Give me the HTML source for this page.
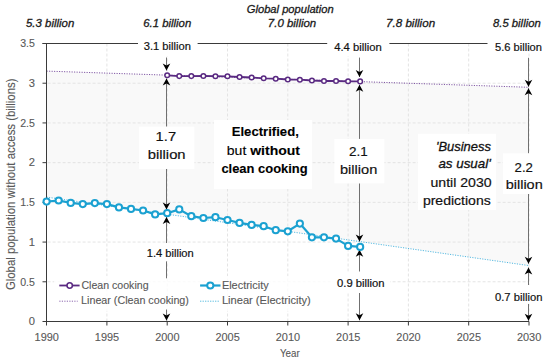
<!DOCTYPE html>
<html><head><meta charset="utf-8"><style>
html,body{margin:0;padding:0;background:#fff;width:550px;height:360px;overflow:hidden;position:relative}
svg text{font-family:"Liberation Sans", sans-serif}
</style></head><body>
<svg width="550" height="360" viewBox="0 0 550 360" style="position:absolute;left:0;top:0">
<polygon points="46.6,71.1 529.0,87.3 529.0,265.6 46.6,197.1" fill="#f9f9f9"/>
<line x1="47.6" y1="281.7857142857143" x2="529.0" y2="281.7857142857143" stroke="#e4e4e4" stroke-width="1" stroke-dasharray="3,2"/>
<line x1="47.6" y1="242.07142857142856" x2="529.0" y2="242.07142857142856" stroke="#e4e4e4" stroke-width="1" stroke-dasharray="3,2"/>
<line x1="47.6" y1="202.35714285714286" x2="529.0" y2="202.35714285714286" stroke="#e4e4e4" stroke-width="1" stroke-dasharray="3,2"/>
<line x1="47.6" y1="162.64285714285714" x2="529.0" y2="162.64285714285714" stroke="#e4e4e4" stroke-width="1" stroke-dasharray="3,2"/>
<line x1="47.6" y1="122.92857142857142" x2="529.0" y2="122.92857142857142" stroke="#e4e4e4" stroke-width="1" stroke-dasharray="3,2"/>
<line x1="47.6" y1="83.21428571428572" x2="529.0" y2="83.21428571428572" stroke="#e4e4e4" stroke-width="1" stroke-dasharray="3,2"/>
<line x1="106.9" y1="43.5" x2="106.9" y2="321.5" stroke="#e4e4e4" stroke-width="1" stroke-dasharray="3,2"/>
<line x1="167.20000000000002" y1="43.5" x2="167.20000000000002" y2="321.5" stroke="#e4e4e4" stroke-width="1" stroke-dasharray="3,2"/>
<line x1="227.5" y1="43.5" x2="227.5" y2="321.5" stroke="#e4e4e4" stroke-width="1" stroke-dasharray="3,2"/>
<line x1="287.8" y1="43.5" x2="287.8" y2="321.5" stroke="#e4e4e4" stroke-width="1" stroke-dasharray="3,2"/>
<line x1="348.1" y1="43.5" x2="348.1" y2="321.5" stroke="#e4e4e4" stroke-width="1" stroke-dasharray="3,2"/>
<line x1="408.40000000000003" y1="43.5" x2="408.40000000000003" y2="321.5" stroke="#e4e4e4" stroke-width="1" stroke-dasharray="3,2"/>
<line x1="468.70000000000005" y1="43.5" x2="468.70000000000005" y2="321.5" stroke="#e4e4e4" stroke-width="1" stroke-dasharray="3,2"/>
<line x1="529.0" y1="43.5" x2="529.0" y2="321.5" stroke="#e4e4e4" stroke-width="1" stroke-dasharray="3,2"/>
<line x1="46.6" y1="71.1" x2="529.0" y2="87.3" stroke="#7a4fa0" stroke-width="1" stroke-dasharray="1.1,1.4"/>
<line x1="46.6" y1="197.1" x2="529.0" y2="265.6" stroke="#4cb6e0" stroke-width="1" stroke-dasharray="1.1,1.4"/>
<rect x="54" y="276" width="280" height="35" fill="#fff" fill-opacity="0.8"/>
<line x1="42.5" y1="43.5" x2="487.5" y2="43.5" stroke="#3a3a3a" stroke-width="1"/>
<line x1="46.5" y1="43.5" x2="46.5" y2="325.5" stroke="#3a3a3a" stroke-width="1"/>
<line x1="46.5" y1="321.5" x2="529" y2="321.5" stroke="#3a3a3a" stroke-width="1"/>
<line x1="42.5" y1="321.5" x2="46.5" y2="321.5" stroke="#3a3a3a" stroke-width="1"/>
<line x1="42.5" y1="281.7857142857143" x2="46.5" y2="281.7857142857143" stroke="#3a3a3a" stroke-width="1"/>
<line x1="42.5" y1="242.07142857142856" x2="46.5" y2="242.07142857142856" stroke="#3a3a3a" stroke-width="1"/>
<line x1="42.5" y1="202.35714285714286" x2="46.5" y2="202.35714285714286" stroke="#3a3a3a" stroke-width="1"/>
<line x1="42.5" y1="162.64285714285714" x2="46.5" y2="162.64285714285714" stroke="#3a3a3a" stroke-width="1"/>
<line x1="42.5" y1="122.92857142857142" x2="46.5" y2="122.92857142857142" stroke="#3a3a3a" stroke-width="1"/>
<line x1="42.5" y1="83.21428571428572" x2="46.5" y2="83.21428571428572" stroke="#3a3a3a" stroke-width="1"/>
<line x1="42.5" y1="43.5" x2="46.5" y2="43.5" stroke="#3a3a3a" stroke-width="1"/>
<line x1="106.9" y1="321.5" x2="106.9" y2="325.5" stroke="#3a3a3a" stroke-width="1"/>
<line x1="167.20000000000002" y1="321.5" x2="167.20000000000002" y2="325.5" stroke="#3a3a3a" stroke-width="1"/>
<line x1="227.5" y1="321.5" x2="227.5" y2="325.5" stroke="#3a3a3a" stroke-width="1"/>
<line x1="287.8" y1="321.5" x2="287.8" y2="325.5" stroke="#3a3a3a" stroke-width="1"/>
<line x1="348.1" y1="321.5" x2="348.1" y2="325.5" stroke="#3a3a3a" stroke-width="1"/>
<line x1="408.40000000000003" y1="321.5" x2="408.40000000000003" y2="325.5" stroke="#3a3a3a" stroke-width="1"/>
<line x1="468.70000000000005" y1="321.5" x2="468.70000000000005" y2="325.5" stroke="#3a3a3a" stroke-width="1"/>
<line x1="529.0" y1="321.5" x2="529.0" y2="325.5" stroke="#3a3a3a" stroke-width="1"/>
<rect x="138" y="38" width="59.599999999999994" height="18" fill="#fff" fill-opacity="1"/>
<rect x="327.2" y="38" width="62.19999999999999" height="18" fill="#fff" fill-opacity="1"/>
<line x1="166.5" y1="57.5" x2="166.5" y2="70.5" stroke="#707070" stroke-width="1"/>
<line x1="166.5" y1="78.5" x2="166.5" y2="126.7" stroke="#707070" stroke-width="1"/>
<line x1="166.5" y1="168.9" x2="166.5" y2="209.6" stroke="#707070" stroke-width="1"/>
<line x1="166.5" y1="216.9" x2="166.5" y2="243" stroke="#707070" stroke-width="1"/>
<line x1="166.5" y1="261.2" x2="166.5" y2="278.3" stroke="#707070" stroke-width="1"/>
<line x1="166.5" y1="309.5" x2="166.5" y2="320.5" stroke="#707070" stroke-width="1"/>
<line x1="359.5" y1="57.6" x2="359.5" y2="77.0" stroke="#707070" stroke-width="1"/>
<line x1="359.5" y1="84.7" x2="359.5" y2="139" stroke="#707070" stroke-width="1"/>
<line x1="359.5" y1="183.3" x2="359.5" y2="241.5" stroke="#707070" stroke-width="1"/>
<line x1="359.5" y1="249.8" x2="359.5" y2="271.7" stroke="#707070" stroke-width="1"/>
<line x1="359.5" y1="293" x2="359.5" y2="320.3" stroke="#707070" stroke-width="1"/>
<line x1="528.5" y1="57.8" x2="528.5" y2="86.7" stroke="#707070" stroke-width="1"/>
<line x1="528.5" y1="88.2" x2="528.5" y2="153.4" stroke="#707070" stroke-width="1"/>
<line x1="528.5" y1="193.9" x2="528.5" y2="263.75" stroke="#707070" stroke-width="1"/>
<line x1="528.5" y1="267.5" x2="528.5" y2="285" stroke="#707070" stroke-width="1"/>
<line x1="528.5" y1="303.75" x2="528.5" y2="320.75" stroke="#707070" stroke-width="1"/>
<path d="M166.5,70.5 L162.7,63.5 L166.5,65.5 L170.3,63.5 Z" fill="#000"/>
<path d="M166.5,78.5 L162.7,85.5 L166.5,83.5 L170.3,85.5 Z" fill="#000"/>
<path d="M166.5,209.6 L162.7,202.6 L166.5,204.6 L170.3,202.6 Z" fill="#000"/>
<path d="M166.5,216.9 L162.7,223.9 L166.5,221.9 L170.3,223.9 Z" fill="#000"/>
<path d="M166.5,320.5 L162.7,313.5 L166.5,315.5 L170.3,313.5 Z" fill="#000"/>
<path d="M359.5,77.0 L355.7,70.0 L359.5,72.0 L363.3,70.0 Z" fill="#000"/>
<path d="M359.5,84.7 L355.7,91.7 L359.5,89.7 L363.3,91.7 Z" fill="#000"/>
<path d="M359.5,241.5 L355.7,234.5 L359.5,236.5 L363.3,234.5 Z" fill="#000"/>
<path d="M359.5,249.8 L355.7,256.8 L359.5,254.8 L363.3,256.8 Z" fill="#000"/>
<path d="M359.5,320.3 L355.7,313.3 L359.5,315.3 L363.3,313.3 Z" fill="#000"/>
<path d="M528.5,86.7 L524.7,79.7 L528.5,81.7 L532.3,79.7 Z" fill="#000"/>
<path d="M528.5,88.2 L524.7,95.2 L528.5,93.2 L532.3,95.2 Z" fill="#000"/>
<path d="M528.5,263.75 L524.7,256.75 L528.5,258.75 L532.3,256.75 Z" fill="#000"/>
<path d="M528.5,267.5 L524.7,274.5 L528.5,272.5 L532.3,274.5 Z" fill="#000"/>
<path d="M528.5,320.75 L524.7,313.75 L528.5,315.75 L532.3,313.75 Z" fill="#000"/>
<polyline points="167.20000000000002,75.3 179.26,76.1 191.32,76.1 203.38,76.0 215.44,76.2 227.5,76.3 239.56,77.0 251.62,77.5 263.68,78.3 275.74,78.7 287.8,79.5 299.86,79.7 311.92,80.5 323.98,81.0 336.04,81.0 348.1,81.3 360.16,81.4" fill="none" stroke="#5a2a82" stroke-width="1.8" stroke-linejoin="round"/>
<circle cx="167.20000000000002" cy="75.3" r="2.3" fill="#fff" stroke="#5a2a82" stroke-width="1.5"/>
<circle cx="179.26" cy="76.1" r="2.3" fill="#fff" stroke="#5a2a82" stroke-width="1.5"/>
<circle cx="191.32" cy="76.1" r="2.3" fill="#fff" stroke="#5a2a82" stroke-width="1.5"/>
<circle cx="203.38" cy="76.0" r="2.3" fill="#fff" stroke="#5a2a82" stroke-width="1.5"/>
<circle cx="215.44" cy="76.2" r="2.3" fill="#fff" stroke="#5a2a82" stroke-width="1.5"/>
<circle cx="227.5" cy="76.3" r="2.3" fill="#fff" stroke="#5a2a82" stroke-width="1.5"/>
<circle cx="239.56" cy="77.0" r="2.3" fill="#fff" stroke="#5a2a82" stroke-width="1.5"/>
<circle cx="251.62" cy="77.5" r="2.3" fill="#fff" stroke="#5a2a82" stroke-width="1.5"/>
<circle cx="263.68" cy="78.3" r="2.3" fill="#fff" stroke="#5a2a82" stroke-width="1.5"/>
<circle cx="275.74" cy="78.7" r="2.3" fill="#fff" stroke="#5a2a82" stroke-width="1.5"/>
<circle cx="287.8" cy="79.5" r="2.3" fill="#fff" stroke="#5a2a82" stroke-width="1.5"/>
<circle cx="299.86" cy="79.7" r="2.3" fill="#fff" stroke="#5a2a82" stroke-width="1.5"/>
<circle cx="311.92" cy="80.5" r="2.3" fill="#fff" stroke="#5a2a82" stroke-width="1.5"/>
<circle cx="323.98" cy="81.0" r="2.3" fill="#fff" stroke="#5a2a82" stroke-width="1.5"/>
<circle cx="336.04" cy="81.0" r="2.3" fill="#fff" stroke="#5a2a82" stroke-width="1.5"/>
<circle cx="348.1" cy="81.3" r="2.3" fill="#fff" stroke="#5a2a82" stroke-width="1.5"/>
<circle cx="360.16" cy="81.4" r="2.3" fill="#fff" stroke="#5a2a82" stroke-width="1.5"/>
<polyline points="46.6,201.6 58.660000000000004,200.5 70.72,202.9 82.78,204.1 94.84,203.1 106.9,204.1 118.96000000000001,207.4 131.02,208.9 143.08,210.5 155.14000000000001,214.4 167.20000000000002,213.2 179.26,209.4 191.32,216.2 203.38,218 215.44,217.2 227.5,220 239.56,222.9 251.62,224.9 263.68,226.2 275.74,230.2 287.8,231.3 299.86,223.6 311.92,237.3 323.98,237.3 336.04,238.6 348.1,245.9 360.16,246.9" fill="none" stroke="#1ba1d1" stroke-width="2.2" stroke-linejoin="round"/>
<circle cx="46.6" cy="201.6" r="3.1" fill="#fff" stroke="#1ba1d1" stroke-width="2.0"/>
<circle cx="58.660000000000004" cy="200.5" r="3.1" fill="#fff" stroke="#1ba1d1" stroke-width="2.0"/>
<circle cx="70.72" cy="202.9" r="3.1" fill="#fff" stroke="#1ba1d1" stroke-width="2.0"/>
<circle cx="82.78" cy="204.1" r="3.1" fill="#fff" stroke="#1ba1d1" stroke-width="2.0"/>
<circle cx="94.84" cy="203.1" r="3.1" fill="#fff" stroke="#1ba1d1" stroke-width="2.0"/>
<circle cx="106.9" cy="204.1" r="3.1" fill="#fff" stroke="#1ba1d1" stroke-width="2.0"/>
<circle cx="118.96000000000001" cy="207.4" r="3.1" fill="#fff" stroke="#1ba1d1" stroke-width="2.0"/>
<circle cx="131.02" cy="208.9" r="3.1" fill="#fff" stroke="#1ba1d1" stroke-width="2.0"/>
<circle cx="143.08" cy="210.5" r="3.1" fill="#fff" stroke="#1ba1d1" stroke-width="2.0"/>
<circle cx="155.14000000000001" cy="214.4" r="3.1" fill="#fff" stroke="#1ba1d1" stroke-width="2.0"/>
<circle cx="167.20000000000002" cy="213.2" r="3.1" fill="#fff" stroke="#1ba1d1" stroke-width="2.0"/>
<circle cx="179.26" cy="209.4" r="3.1" fill="#fff" stroke="#1ba1d1" stroke-width="2.0"/>
<circle cx="191.32" cy="216.2" r="3.1" fill="#fff" stroke="#1ba1d1" stroke-width="2.0"/>
<circle cx="203.38" cy="218" r="3.1" fill="#fff" stroke="#1ba1d1" stroke-width="2.0"/>
<circle cx="215.44" cy="217.2" r="3.1" fill="#fff" stroke="#1ba1d1" stroke-width="2.0"/>
<circle cx="227.5" cy="220" r="3.1" fill="#fff" stroke="#1ba1d1" stroke-width="2.0"/>
<circle cx="239.56" cy="222.9" r="3.1" fill="#fff" stroke="#1ba1d1" stroke-width="2.0"/>
<circle cx="251.62" cy="224.9" r="3.1" fill="#fff" stroke="#1ba1d1" stroke-width="2.0"/>
<circle cx="263.68" cy="226.2" r="3.1" fill="#fff" stroke="#1ba1d1" stroke-width="2.0"/>
<circle cx="275.74" cy="230.2" r="3.1" fill="#fff" stroke="#1ba1d1" stroke-width="2.0"/>
<circle cx="287.8" cy="231.3" r="3.1" fill="#fff" stroke="#1ba1d1" stroke-width="2.0"/>
<circle cx="299.86" cy="223.6" r="3.1" fill="#fff" stroke="#1ba1d1" stroke-width="2.0"/>
<circle cx="311.92" cy="237.3" r="3.1" fill="#fff" stroke="#1ba1d1" stroke-width="2.0"/>
<circle cx="323.98" cy="237.3" r="3.1" fill="#fff" stroke="#1ba1d1" stroke-width="2.0"/>
<circle cx="336.04" cy="238.6" r="3.1" fill="#fff" stroke="#1ba1d1" stroke-width="2.0"/>
<circle cx="348.1" cy="245.9" r="3.1" fill="#fff" stroke="#1ba1d1" stroke-width="2.0"/>
<circle cx="360.16" cy="246.9" r="3.1" fill="#fff" stroke="#1ba1d1" stroke-width="2.0"/>
<rect x="138.9" y="126.7" width="55.5" height="42.2" fill="#fff" fill-opacity="1"/>
<rect x="214" y="120" width="98" height="69" fill="#fff" fill-opacity="1"/>
<rect x="334.4" y="138.9" width="50.0" height="44.400000000000006" fill="#fff" fill-opacity="1"/>
<rect x="418" y="133.8" width="78" height="76.19999999999999" fill="#fff" fill-opacity="1"/>
<rect x="503" y="153.4" width="43" height="40.5" fill="#fff" fill-opacity="1"/>
<rect x="140" y="243" width="60" height="18.19999999999999" fill="#fff" fill-opacity="1"/>
<rect x="333" y="271.7" width="57" height="21.30000000000001" fill="#fff" fill-opacity="1"/>
<rect x="492" y="285" width="54" height="18.75" fill="#fff" fill-opacity="1"/>
<line x1="59.3" y1="285.5" x2="79.6" y2="285.5" stroke="#5a2a82" stroke-width="1.8"/>
<circle cx="69.7" cy="285.5" r="2.7" fill="#fff" stroke="#5a2a82" stroke-width="1.6"/>
<line x1="59.3" y1="301.2" x2="77.7" y2="301.2" stroke="#8a64ad" stroke-width="1" stroke-dasharray="1.2,1.3"/>
<line x1="200.1" y1="285.5" x2="220.5" y2="285.5" stroke="#1ba1d1" stroke-width="2.2"/>
<circle cx="210.3" cy="285.5" r="3.1" fill="#fff" stroke="#1ba1d1" stroke-width="2"/>
<line x1="200.1" y1="301.2" x2="219" y2="301.2" stroke="#4fb8de" stroke-width="1" stroke-dasharray="1.2,1.3"/>
<text x="246.80" y="13.2" font-size="10.8" fill="#1a1a1a" stroke="#1a1a1a" stroke-width="0.3" textLength="86.80" lengthAdjust="spacingAndGlyphs"><tspan font-weight="normal" font-style="italic">Global population</tspan></text>
<text x="26.00" y="27.1" font-size="11" fill="#1a1a1a" stroke="#1a1a1a" stroke-width="0.3" textLength="48.32" lengthAdjust="spacingAndGlyphs"><tspan font-weight="normal" font-style="italic">5.3 billion</tspan></text>
<text x="143.30" y="27.1" font-size="11" fill="#1a1a1a" stroke="#1a1a1a" stroke-width="0.3" textLength="47.92" lengthAdjust="spacingAndGlyphs"><tspan font-weight="normal" font-style="italic">6.1 billion</tspan></text>
<text x="267.86" y="27.1" font-size="11" fill="#1a1a1a" stroke="#1a1a1a" stroke-width="0.3" textLength="48.36" lengthAdjust="spacingAndGlyphs"><tspan font-weight="normal" font-style="italic">7.0 billion</tspan></text>
<text x="386.04" y="27.1" font-size="11" fill="#1a1a1a" stroke="#1a1a1a" stroke-width="0.3" textLength="49.08" lengthAdjust="spacingAndGlyphs"><tspan font-weight="normal" font-style="italic">7.8 billion</tspan></text>
<text x="493.00" y="27.1" font-size="11" fill="#1a1a1a" stroke="#1a1a1a" stroke-width="0.3" textLength="47.72" lengthAdjust="spacingAndGlyphs"><tspan font-weight="normal" font-style="italic">8.5 billion</tspan></text>
<text x="143.80" y="50.4" font-size="10.4" fill="#111" stroke="#111" stroke-width="0.18" textLength="47.06" lengthAdjust="spacingAndGlyphs"><tspan font-weight="normal" font-style="normal">3.1 billion</tspan></text>
<text x="334.20" y="50.5" font-size="10.4" fill="#111" stroke="#111" stroke-width="0.18" textLength="47.56" lengthAdjust="spacingAndGlyphs"><tspan font-weight="normal" font-style="normal">4.4 billion</tspan></text>
<text x="495.10" y="51.0" font-size="10.4" fill="#111" stroke="#111" stroke-width="0.18" textLength="46.86" lengthAdjust="spacingAndGlyphs"><tspan font-weight="normal" font-style="normal">5.6 billion</tspan></text>
<text x="155.60" y="140.7" font-size="13.4" fill="#111" stroke="#111" stroke-width="0.18" textLength="20.49" lengthAdjust="spacingAndGlyphs"><tspan font-weight="normal" font-style="normal">1.7</tspan></text>
<text x="147.80" y="159.3" font-size="13.4" fill="#111" stroke="#111" stroke-width="0.18" textLength="37.79" lengthAdjust="spacingAndGlyphs"><tspan font-weight="normal" font-style="normal">billion</tspan></text>
<text x="231.70" y="136.0" font-size="12.8" fill="#000" stroke="#000" stroke-width="0.12" textLength="67.17" lengthAdjust="spacingAndGlyphs"><tspan font-weight="bold" font-style="normal">Electrified,</tspan></text>
<text x="226.80" y="154.7" font-size="12.8" fill="#000" stroke="#000" stroke-width="0.12" textLength="73.19" lengthAdjust="spacingAndGlyphs"><tspan font-weight="normal" font-style="normal">but </tspan><tspan font-weight="bold" font-style="normal">without</tspan></text>
<text x="221.40" y="172.5" font-size="12.8" fill="#000" stroke="#000" stroke-width="0.12" textLength="86.23" lengthAdjust="spacingAndGlyphs"><tspan font-weight="bold" font-style="normal">clean cooking</tspan></text>
<text x="348.90" y="156.2" font-size="13.6" fill="#111" stroke="#111" stroke-width="0.18" textLength="18.76" lengthAdjust="spacingAndGlyphs"><tspan font-weight="normal" font-style="normal">2.1</tspan></text>
<text x="340.00" y="174.4" font-size="13.6" fill="#111" stroke="#111" stroke-width="0.18" textLength="37.30" lengthAdjust="spacingAndGlyphs"><tspan font-weight="normal" font-style="normal">billion</tspan></text>
<text x="436.04" y="150.5" font-size="13.4" fill="#111" stroke="#111" stroke-width="0.3" textLength="54.87" lengthAdjust="spacingAndGlyphs"><tspan font-weight="normal" font-style="italic">'Business</tspan></text>
<text x="438.40" y="168.2" font-size="13.4" fill="#111" stroke="#111" stroke-width="0.3" textLength="52.36" lengthAdjust="spacingAndGlyphs"><tspan font-weight="normal" font-style="italic">as usual'</tspan></text>
<text x="430.50" y="187.1" font-size="13.0" fill="#111" stroke="#111" stroke-width="0.18" textLength="61.05" lengthAdjust="spacingAndGlyphs"><tspan font-weight="normal" font-style="normal">until 2030</tspan></text>
<text x="422.90" y="205.0" font-size="13.0" fill="#111" stroke="#111" stroke-width="0.18" textLength="67.86" lengthAdjust="spacingAndGlyphs"><tspan font-weight="normal" font-style="normal">predictions</tspan></text>
<text x="514.60" y="171.7" font-size="13.6" fill="#111" stroke="#111" stroke-width="0.18" textLength="18.34" lengthAdjust="spacingAndGlyphs"><tspan font-weight="normal" font-style="normal">2.2</tspan></text>
<text x="505.70" y="189.3" font-size="13.6" fill="#111" stroke="#111" stroke-width="0.18" textLength="37.00" lengthAdjust="spacingAndGlyphs"><tspan font-weight="normal" font-style="normal">billion</tspan></text>
<text x="146.70" y="256.8" font-size="10.4" fill="#111" stroke="#111" stroke-width="0.18" textLength="47.06" lengthAdjust="spacingAndGlyphs"><tspan font-weight="normal" font-style="normal">1.4 billion</tspan></text>
<text x="337.10" y="286.7" font-size="10.4" fill="#111" stroke="#111" stroke-width="0.18" textLength="47.46" lengthAdjust="spacingAndGlyphs"><tspan font-weight="normal" font-style="normal">0.9 billion</tspan></text>
<text x="495.00" y="301.2" font-size="10.6" fill="#111" stroke="#111" stroke-width="0.18" textLength="47.39" lengthAdjust="spacingAndGlyphs"><tspan font-weight="normal" font-style="normal">0.7 billion</tspan></text>
<text x="81.40" y="288.8" font-size="10.4" fill="#595959" stroke="#595959" stroke-width="0.12" textLength="67.17" lengthAdjust="spacingAndGlyphs"><tspan font-weight="normal" font-style="normal">Clean cooking</tspan></text>
<text x="81.10" y="304.1" font-size="10.4" fill="#595959" stroke="#595959" stroke-width="0.12" textLength="107.77" lengthAdjust="spacingAndGlyphs"><tspan font-weight="normal" font-style="normal">Linear (Clean cooking)</tspan></text>
<text x="221.90" y="288.8" font-size="10.4" fill="#595959" stroke="#595959" stroke-width="0.12" textLength="46.75" lengthAdjust="spacingAndGlyphs"><tspan font-weight="normal" font-style="normal">Electricity</tspan></text>
<text x="221.90" y="304.1" font-size="10.4" fill="#595959" stroke="#595959" stroke-width="0.12" textLength="88.89" lengthAdjust="spacingAndGlyphs"><tspan font-weight="normal" font-style="normal">Linear (Electricity)</tspan></text>
<text x="34.55" y="341.4" font-size="11.2" fill="#595959" stroke="#595959" stroke-width="0.12" textLength="24.32" lengthAdjust="spacingAndGlyphs"><tspan font-weight="normal" font-style="normal">1990</tspan></text>
<text x="94.85" y="341.4" font-size="11.2" fill="#595959" stroke="#595959" stroke-width="0.12" textLength="24.32" lengthAdjust="spacingAndGlyphs"><tspan font-weight="normal" font-style="normal">1995</tspan></text>
<text x="155.15" y="341.4" font-size="11.2" fill="#595959" stroke="#595959" stroke-width="0.12" textLength="24.32" lengthAdjust="spacingAndGlyphs"><tspan font-weight="normal" font-style="normal">2000</tspan></text>
<text x="215.45" y="341.4" font-size="11.2" fill="#595959" stroke="#595959" stroke-width="0.12" textLength="24.32" lengthAdjust="spacingAndGlyphs"><tspan font-weight="normal" font-style="normal">2005</tspan></text>
<text x="275.75" y="341.4" font-size="11.2" fill="#595959" stroke="#595959" stroke-width="0.12" textLength="24.32" lengthAdjust="spacingAndGlyphs"><tspan font-weight="normal" font-style="normal">2010</tspan></text>
<text x="336.05" y="341.4" font-size="11.2" fill="#595959" stroke="#595959" stroke-width="0.12" textLength="24.32" lengthAdjust="spacingAndGlyphs"><tspan font-weight="normal" font-style="normal">2015</tspan></text>
<text x="396.35" y="341.4" font-size="11.2" fill="#595959" stroke="#595959" stroke-width="0.12" textLength="24.32" lengthAdjust="spacingAndGlyphs"><tspan font-weight="normal" font-style="normal">2020</tspan></text>
<text x="456.65" y="341.4" font-size="11.2" fill="#595959" stroke="#595959" stroke-width="0.12" textLength="24.32" lengthAdjust="spacingAndGlyphs"><tspan font-weight="normal" font-style="normal">2025</tspan></text>
<text x="516.95" y="341.4" font-size="11.2" fill="#595959" stroke="#595959" stroke-width="0.12" textLength="24.32" lengthAdjust="spacingAndGlyphs"><tspan font-weight="normal" font-style="normal">2030</tspan></text>
<text x="280.00" y="356.8" font-size="11.2" fill="#595959" stroke="#595959" stroke-width="0.12" textLength="19.76" lengthAdjust="spacingAndGlyphs"><tspan font-weight="normal" font-style="normal">Year</tspan></text>
<text x="28.70" y="325.3" font-size="11.2" fill="#595959" stroke="#595959" stroke-width="0.12" textLength="6.22" lengthAdjust="spacingAndGlyphs"><tspan font-weight="normal" font-style="normal">0</tspan></text>
<text x="20.20" y="285.5857142857143" font-size="11.2" fill="#595959" stroke="#595959" stroke-width="0.12" textLength="14.71" lengthAdjust="spacingAndGlyphs"><tspan font-weight="normal" font-style="normal">0.5</tspan></text>
<text x="28.70" y="245.87142857142857" font-size="11.2" fill="#595959" stroke="#595959" stroke-width="0.12" textLength="6.22" lengthAdjust="spacingAndGlyphs"><tspan font-weight="normal" font-style="normal">1</tspan></text>
<text x="20.20" y="206.15714285714287" font-size="11.2" fill="#595959" stroke="#595959" stroke-width="0.12" textLength="14.71" lengthAdjust="spacingAndGlyphs"><tspan font-weight="normal" font-style="normal">1.5</tspan></text>
<text x="28.70" y="166.44285714285715" font-size="11.2" fill="#595959" stroke="#595959" stroke-width="0.12" textLength="6.22" lengthAdjust="spacingAndGlyphs"><tspan font-weight="normal" font-style="normal">2</tspan></text>
<text x="20.20" y="126.72857142857141" font-size="11.2" fill="#595959" stroke="#595959" stroke-width="0.12" textLength="14.71" lengthAdjust="spacingAndGlyphs"><tspan font-weight="normal" font-style="normal">2.5</tspan></text>
<text x="28.70" y="87.01428571428572" font-size="11.2" fill="#595959" stroke="#595959" stroke-width="0.12" textLength="6.22" lengthAdjust="spacingAndGlyphs"><tspan font-weight="normal" font-style="normal">3</tspan></text>
<text x="20.20" y="47.3" font-size="11.2" fill="#595959" stroke="#595959" stroke-width="0.12" textLength="14.71" lengthAdjust="spacingAndGlyphs"><tspan font-weight="normal" font-style="normal">3.5</tspan></text>
<text transform="translate(15.4,184.3) rotate(-90)" text-anchor="middle" font-size="12.4" stroke="#595959" stroke-width="0.1" fill="#595959" textLength="211.5" lengthAdjust="spacingAndGlyphs">Global population without access (billions)</text>
</svg>
</body></html>
